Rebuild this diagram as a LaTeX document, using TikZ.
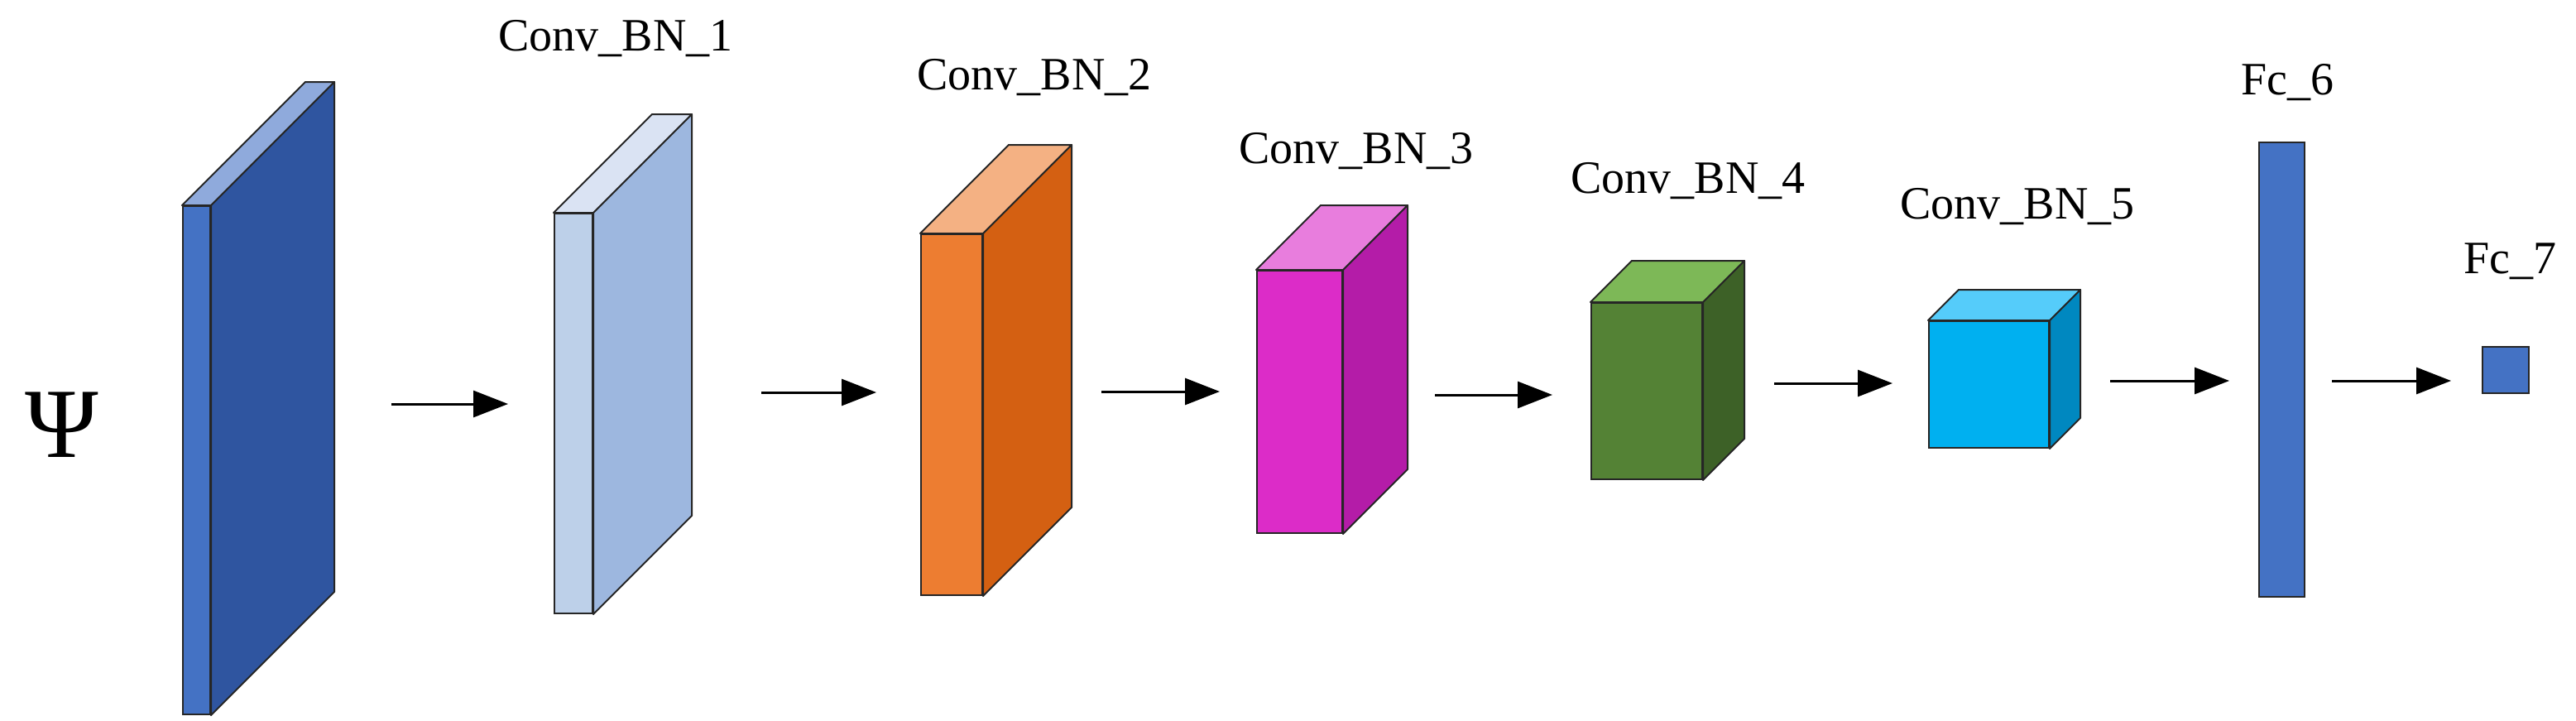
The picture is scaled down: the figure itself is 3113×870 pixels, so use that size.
\documentclass[tikz,border=0pt]{standalone}
\usepackage{fontspec}
\setmainfont{Liberation Serif}
\usetikzlibrary{arrows.meta}
\definecolor{c0f}{HTML}{4472C4}\definecolor{c0s}{HTML}{2F55A0}\definecolor{c0t}{HTML}{8FAADC}
\definecolor{c1f}{HTML}{BDD0E9}\definecolor{c1s}{HTML}{9DB7DF}\definecolor{c1t}{HTML}{DAE3F3}
\definecolor{c2f}{HTML}{ED7D31}\definecolor{c2s}{HTML}{D46012}\definecolor{c2t}{HTML}{F4B183}
\definecolor{c3f}{HTML}{DC2CC8}\definecolor{c3s}{HTML}{B41CA8}\definecolor{c3t}{HTML}{E87DDD}
\definecolor{c4f}{HTML}{548235}\definecolor{c4s}{HTML}{3D6127}\definecolor{c4t}{HTML}{7DB857}
\definecolor{c5f}{HTML}{00B0F0}\definecolor{c5s}{HTML}{0088C0}\definecolor{c5t}{HTML}{55CCFA}
\newcommand\mycub[9]{%
  \node[face, fill=#7, minimum width=#4pt, minimum height=#5pt] (#1) at (#2,#3) {};
  \draw[edge, fill=#8] (#1.north east) -- ++(#6,-#6) -- ([shift={(#6,-#6)}]#1.south east) -- (#1.south east) -- cycle;
  \draw[edge, fill=#9] (#1.north west) -- ++(#6,-#6) -- ([shift={(#6,-#6)}]#1.north east) -- (#1.north east) -- cycle;
}
\begin{document}
\begin{tikzpicture}[x=1pt,y=-1pt,
  face/.style={draw=black!85, line width=2pt, inner sep=0pt},
  edge/.style={draw=black!85, line width=2pt, line join=round},
  lab/.style={font=\fontsize{56}{60}\selectfont, inner sep=0pt},
  arr/.style={line width=3pt, -{Triangle[length=42pt,width=32pt]}}]
\useasboundingbox (0,0) rectangle (3113,870);
\node[font=\fontsize{120}{120}\selectfont, inner sep=0pt] (psi) at (75,513) {Ψ};
\mycub{b0}{237.5}{556}{33}{614}{149}{c0f}{c0s}{c0t}
\mycub{b1}{693}{499.5}{46}{483}{119}{c1f}{c1s}{c1t}
\mycub{b2}{1150}{501}{74}{436}{107}{c2f}{c2s}{c2t}
\mycub{b3}{1570.5}{485.5}{103}{317}{78}{c3f}{c3s}{c3t}
\mycub{b4}{1990}{472.5}{134}{213}{50}{c4f}{c4s}{c4t}
\mycub{b5}{2403.5}{464.5}{145}{153}{37}{c5f}{c5s}{c5t}
\node[face, fill=c0f, minimum width=55pt, minimum height=549pt] (fc6) at (2757.5,446.5) {};
\node[face, fill=c0f, minimum width=56pt, minimum height=56pt] (fc7) at (3028,447) {};
\node[lab] (l1) at (744,47) {Conv\_BN\_1};
\node[lab] (l2) at (1250,94) {Conv\_BN\_2};
\node[lab] (l3) at (1639,183) {Conv\_BN\_3};
\node[lab] (l4) at (2040,219) {Conv\_BN\_4};
\node[lab] (l5) at (2438,250) {Conv\_BN\_5};
\node[lab] (l6) at (2764,100) {Fc\_6};
\node[lab] (l7) at (3033,316) {Fc\_7};
\coordinate (a1s) at (473,488);  \coordinate (a1e) at (614,488);
\coordinate (a2s) at (920,474);  \coordinate (a2e) at (1059,474);
\coordinate (a3s) at (1331,473); \coordinate (a3e) at (1474,473);
\coordinate (a4s) at (1734,477); \coordinate (a4e) at (1876,477);
\coordinate (a5s) at (2144,463); \coordinate (a5e) at (2287,463);
\coordinate (a6s) at (2550,460); \coordinate (a6e) at (2694,460);
\coordinate (a7s) at (2818,460); \coordinate (a7e) at (2962,460);
\foreach \i in {1,...,7} {\draw[arr] (a\i s) -- (a\i e);}
\end{tikzpicture}
\end{document}
